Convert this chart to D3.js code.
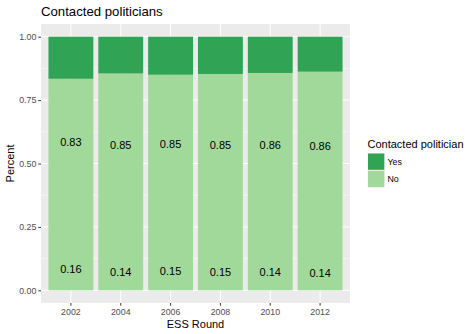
<!DOCTYPE html>
<html>
<head>
<meta charset="utf-8">
<script src="https://cdn.jsdelivr.net/npm/d3@7"></script>
<style>
  body { margin: 0; background: #fff; }
  svg { font-family: "Liberation Sans", Arial, sans-serif; }
</style>
</head>
<body>
<div class="chart"></div>
<script>
const rounds = ['2002', '2004', '2006', '2008', '2010', '2012'];
const noShare = [0.834, 0.855, 0.850, 0.853, 0.857, 0.862];
const yesShare = [0.166, 0.145, 0.150, 0.147, 0.143, 0.138];
const noLabels = ['0.83', '0.85', '0.85', '0.85', '0.86', '0.86'];
const yesLabels = ['0.16', '0.14', '0.15', '0.15', '0.14', '0.14'];
const yTicks = [0, 0.25, 0.5, 0.75, 1];
const yMinor = [0.125, 0.375, 0.625, 0.875];

const width = 474, height = 334;
const panel = { left: 41, right: 350, top: 24, bottom: 303 };
const colYes = '#31a354', colNo = '#a1d99b';

const svg = d3.select('div.chart').append('svg').attr('width', width).attr('height', height);

// ggplot discrete: 0.6 unit expansion each side, bars 0.9 wide
const x = d3.scaleBand().domain(rounds)
    .range([panel.left, panel.right]).paddingInner(0.1).paddingOuter(0.15);
// keep ggplot expansion of 5%
const y = d3.scaleLinear().domain([-0.05, 1.05]).range([panel.bottom, panel.top]);

svg.append('rect')
    .attr('x', panel.left).attr('y', panel.top)
    .attr('width', panel.right - panel.left).attr('height', panel.bottom - panel.top)
    .attr('fill', '#ebebeb');

const grid = svg.append('g').classed('grid', true);
grid.selectAll('line.minor').data(yMinor).enter().append('line')
    .attr('x1', panel.left).attr('x2', panel.right)
    .attr('y1', d => y(d)).attr('y2', d => y(d))
    .attr('stroke', '#fff').attr('stroke-width', 0.5);
grid.selectAll('line.major').data(yTicks).enter().append('line')
    .attr('x1', panel.left).attr('x2', panel.right)
    .attr('y1', d => y(d)).attr('y2', d => y(d))
    .attr('stroke', '#fff').attr('stroke-width', 1);
grid.selectAll('line.vert').data(rounds).enter().append('line')
    .attr('x1', d => x(d) + x.bandwidth() / 2).attr('x2', d => x(d) + x.bandwidth() / 2)
    .attr('y1', panel.top).attr('y2', panel.bottom)
    .attr('stroke', '#fff').attr('stroke-width', 1);

const data = rounds.map((r, i) => ({ round: r, no: noShare[i], yes: yesShare[i], noLabel: noLabels[i], yesLabel: yesLabels[i] }));

const bars = svg.append('g').classed('bars', true);
bars.selectAll('rect.no').data(data).enter().append('rect')
    .attr('x', d => x(d.round)).attr('width', x.bandwidth())
    .attr('y', d => y(d.no)).attr('height', d => y(0) - y(d.no))
    .attr('fill', colNo);
bars.selectAll('rect.yes').data(data).enter().append('rect')
    .attr('x', d => x(d.round)).attr('width', x.bandwidth())
    .attr('y', d => y(d.no + d.yes)).attr('height', d => y(d.no) - y(d.no + d.yes))
    .attr('fill', colYes);

const labels = svg.append('g').classed('labels', true)
    .attr('font-size', 11).attr('fill', '#000').attr('text-anchor', 'middle');
labels.selectAll('text.yes').data(data).enter().append('text')
    .attr('x', d => x(d.round) + x.bandwidth() / 2)
    .attr('y', d => y(d.yes / 2)).attr('dy', '0.35em')
    .text(d => d.yesLabel);
labels.selectAll('text.no').data(data).enter().append('text')
    .attr('x', d => x(d.round) + x.bandwidth() / 2)
    .attr('y', d => y(d.yes + d.no / 2)).attr('dy', '0.35em')
    .text(d => d.noLabel);

const yAxis = d3.axisLeft(y).tickValues(yTicks).tickFormat(d3.format('.2f')).tickSize(2.7).tickPadding(2);
const yg = svg.append('g').classed('y-axis', true).attr('transform', `translate(${panel.left}, 0)`).call(yAxis);
const xAxis = d3.axisBottom(x).tickSize(2.7).tickPadding(3);
const xg = svg.append('g').classed('x-axis', true).attr('transform', `translate(0, ${panel.bottom})`).call(xAxis);
[yg, xg].forEach(g => {
    g.select('.domain').remove();
    g.selectAll('.tick line').attr('stroke', '#333');
    g.selectAll('.tick text').attr('fill', '#4d4d4d').attr('font-size', 8.8)
        .attr('font-family', '"Liberation Sans", Arial, sans-serif');
});

svg.append('text').attr('x', panel.left).attr('y', 16)
    .attr('font-size', 13.2).attr('fill', '#000').text('Contacted politicians');
svg.append('text').attr('x', (panel.left + panel.right) / 2).attr('y', 328)
    .attr('text-anchor', 'middle').attr('font-size', 11).attr('fill', '#000').text('ESS Round');
svg.append('text').attr('transform', `translate(14, ${(panel.top + panel.bottom) / 2}) rotate(-90)`)
    .attr('text-anchor', 'middle').attr('font-size', 11).attr('fill', '#000').text('Percent');

const legend = svg.append('g').classed('legend', true).attr('transform', 'translate(367.5, 0)');
legend.append('text').attr('x', 0).attr('y', 148).attr('font-size', 11).attr('fill', '#000').text('Contacted politician');
const keys = [{ label: 'Yes', color: colYes }, { label: 'No', color: colNo }];
legend.selectAll('rect.key').data(keys).enter().append('rect')
    .attr('x', 0).attr('y', (d, i) => 153 + i * 17.3)
    .attr('width', 17.3).attr('height', 17.3).attr('fill', '#f2f2f2');
legend.selectAll('rect.swatch').data(keys).enter().append('rect')
    .attr('x', 0.5).attr('y', (d, i) => 153.5 + i * 17.3)
    .attr('width', 16.3).attr('height', 16.3).attr('fill', d => d.color);
legend.selectAll('text.key').data(keys).enter().append('text')
    .attr('x', 20).attr('y', (d, i) => 161.7 + i * 17.3).attr('dy', '0.35em')
    .attr('font-size', 8.8).attr('fill', '#000').text(d => d.label);
</script>
</body>
</html>
